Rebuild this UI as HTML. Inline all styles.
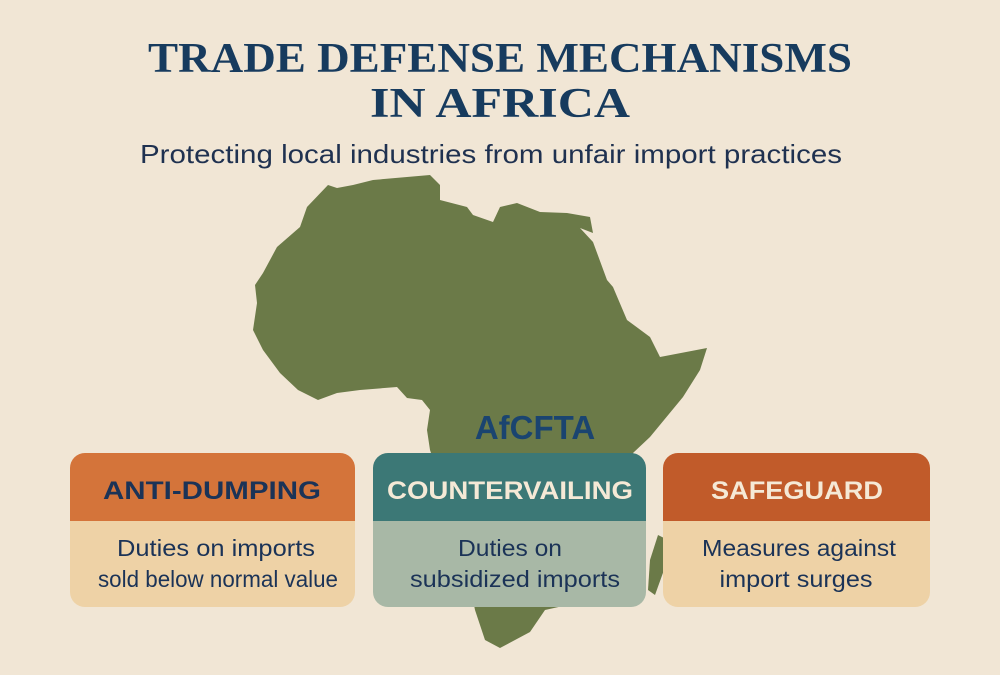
<!DOCTYPE html>
<html><head><meta charset="utf-8"><style>
html,body{margin:0;padding:0;background:#f1e6d5;}
svg{display:block}
</style></head><body>
<svg width="1000" height="675" viewBox="0 0 1000 675" xmlns="http://www.w3.org/2000/svg">
<rect width="1000" height="675" fill="#f1e6d5"/>
<text x="500" y="72" text-anchor="middle" font-family="Liberation Serif, serif" font-weight="bold" font-size="42" fill="#173b5e" textLength="704" lengthAdjust="spacingAndGlyphs">TRADE DEFENSE MECHANISMS</text>
<text x="500" y="117" text-anchor="middle" font-family="Liberation Serif, serif" font-weight="bold" font-size="42" fill="#173b5e" textLength="260" lengthAdjust="spacingAndGlyphs">IN AFRICA</text>
<text x="491" y="163" text-anchor="middle" font-family="Liberation Sans, sans-serif" font-size="26" fill="#1f3150" textLength="702" lengthAdjust="spacingAndGlyphs">Protecting local industries from unfair import practices</text>
<path fill="#6b7a48" d="M328,185 L337,188 L353,185 L373,180 L430,175 L440,185 L440,200 L467,207 L473,215 L493,222 L500,207 L517,203 L540,212 L567,213 L590,217 L593,233 L580,228 L593,242 L607,280 L613,287 L627,320 L650,337 L660,357 L707,348 L700,370 L683,397 L650,437 L633,453 L640,500 L645,540 L620,580 L590,600 L545,610 L530,632 L500,648 L485,640 L475,610 L465,560 L450,510 L430,450 L427,430 L430,410 L422,400 L407,398 L397,387 L360,390 L337,393 L318,400 L298,390 L280,373 L263,350 L253,330 L257,303 L255,285 L263,273 L277,247 L300,227 L307,207 Z"/>
<path fill="#6b7a48" d="M658,535 L668,540 L664,570 L655,595 L648,590 L650,560 Z"/>
<text x="535" y="439" text-anchor="middle" font-family="Liberation Sans, sans-serif" font-weight="bold" font-size="33" fill="#1a4470">AfCFTA</text>
<path d="M70,468 a15,15 0 0 1 15,-15 h255 a15,15 0 0 1 15,15 v53 h-285 z" fill="#d4743a"/>
<path d="M70,521 h285 v71 a15,15 0 0 1 -15,15 h-255 a15,15 0 0 1 -15,-15 z" fill="#eed2a6"/>
<text x="212" y="499" text-anchor="middle" font-family="Liberation Sans, sans-serif" font-weight="bold" font-size="25" fill="#1b3357" textLength="218" lengthAdjust="spacingAndGlyphs">ANTI-DUMPING</text>
<text x="216" y="556" text-anchor="middle" font-family="Liberation Sans, sans-serif" font-size="23" fill="#1b3357" textLength="198" lengthAdjust="spacingAndGlyphs">Duties on imports</text>
<text x="218" y="587" text-anchor="middle" font-family="Liberation Sans, sans-serif" font-size="23" fill="#1b3357" textLength="240" lengthAdjust="spacingAndGlyphs">sold below normal value</text>
<path d="M373,468 a15,15 0 0 1 15,-15 h243 a15,15 0 0 1 15,15 v53 h-273 z" fill="#3c7876"/>
<path d="M373,521 h273 v71 a15,15 0 0 1 -15,15 h-243 a15,15 0 0 1 -15,-15 z" fill="#a8b8a6"/>
<text x="510" y="499" text-anchor="middle" font-family="Liberation Sans, sans-serif" font-weight="bold" font-size="25" fill="#f5e9d6" textLength="246" lengthAdjust="spacingAndGlyphs">COUNTERVAILING</text>
<text x="510" y="556" text-anchor="middle" font-family="Liberation Sans, sans-serif" font-size="23" fill="#1b3357" textLength="104" lengthAdjust="spacingAndGlyphs">Duties on</text>
<text x="515" y="587" text-anchor="middle" font-family="Liberation Sans, sans-serif" font-size="23" fill="#1b3357" textLength="210" lengthAdjust="spacingAndGlyphs">subsidized imports</text>
<path d="M663,468 a15,15 0 0 1 15,-15 h237 a15,15 0 0 1 15,15 v53 h-267 z" fill="#c15b2a"/>
<path d="M663,521 h267 v71 a15,15 0 0 1 -15,15 h-237 a15,15 0 0 1 -15,-15 z" fill="#eed2a6"/>
<text x="797" y="499" text-anchor="middle" font-family="Liberation Sans, sans-serif" font-weight="bold" font-size="25" fill="#f5e9d6" textLength="172" lengthAdjust="spacingAndGlyphs">SAFEGUARD</text>
<text x="799" y="556" text-anchor="middle" font-family="Liberation Sans, sans-serif" font-size="23" fill="#1b3357" textLength="194" lengthAdjust="spacingAndGlyphs">Measures against</text>
<text x="796" y="587" text-anchor="middle" font-family="Liberation Sans, sans-serif" font-size="23" fill="#1b3357" textLength="153" lengthAdjust="spacingAndGlyphs">import surges</text>
</svg>
</body></html>
